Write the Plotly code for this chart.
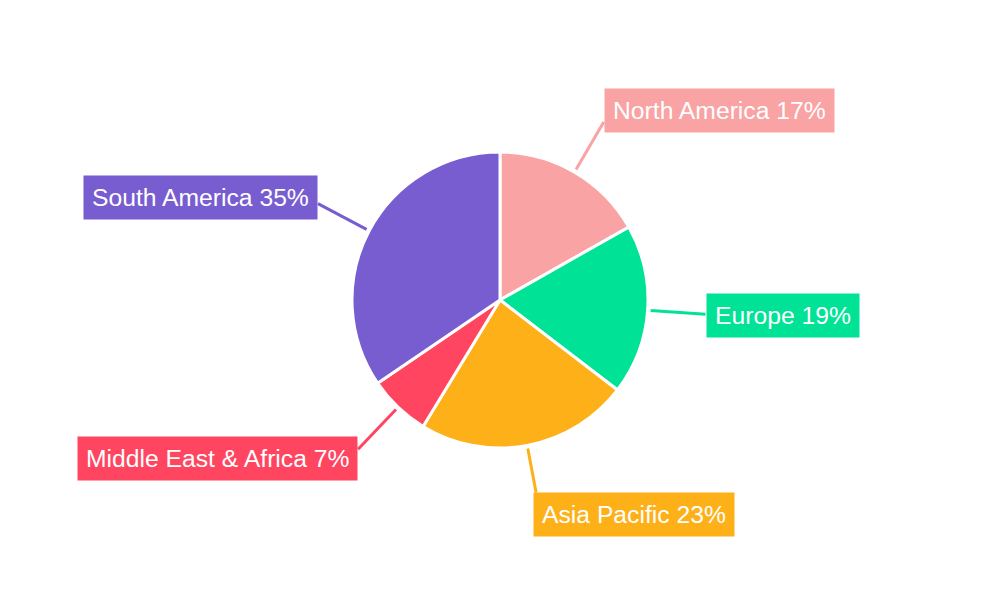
import math
import plotly.graph_objects as go

regions = ["North America", "Europe", "Asia Pacific", "Middle East & Africa", "South America"]
shares = [16.8, 18.6, 23.3, 6.8, 34.5]
colors = ["#F9A3A4", "#00E396", "#FEB019", "#FF4560", "#775DD0"]

W, H = 1000, 600
# the page body adds an 8px offset, so the pie centre is set 8px up/left
CX, CY, R = 492, 292, 148

fig = go.Figure(go.Pie(
    labels=regions, values=shares, sort=False, direction="clockwise", rotation=0,
    marker=dict(colors=colors, line=dict(color="white", width=3)),
    textinfo="none", hoverinfo="label+percent", showlegend=False,
    domain=dict(x=[(CX - R) / W, (CX + R) / W], y=[1 - (CY + R) / H, 1 - (CY - R) / H]),
))

total = sum(shares)
cum = 0
annotations, shapes = [], []
for name, v, c in zip(regions, shares, colors):
    mid = (cum + v / 2) / total * 2 * math.pi
    cum += v
    s, co = math.sin(mid), math.cos(mid)
    bottom = co < -0.9
    r1 = R + 3
    r2 = R + (48 if bottom else 58)
    x1, y1 = CX + r1 * s, CY - r1 * co
    x2, y2 = CX + r2 * s, CY - r2 * co
    shapes.append(dict(type="line", xref="paper", yref="paper",
                       x0=x1 / W, y0=1 - y1 / H, x1=x2 / W, y1=1 - y2 / H,
                       line=dict(color=c, width=3)))
    pct = round(v / total * 100 + 1e-9)
    if bottom:
        xa, ya, xs, ys = "left", "top", -3, 1
    else:
        xa = "left" if s > 0 else "right"
        ya, xs, ys = "middle", 0, 13 * co
    annotations.append(dict(
        x=x2 / W, y=1 - y2 / H, xref="paper", yref="paper",
        text=f"{name} {pct}%", showarrow=False, xanchor=xa, yanchor=ya,
        xshift=xs, yshift=ys,
        bgcolor=c, borderpad=8,
        font=dict(family="Liberation Sans, Arial, sans-serif", size=24.7, color="white"),
    ))

fig.update_layout(
    width=W, height=H, margin=dict(l=0, r=0, t=0, b=0),
    paper_bgcolor="white", plot_bgcolor="white",
    annotations=annotations, shapes=shapes,
)
fig.write_html("out.html")
